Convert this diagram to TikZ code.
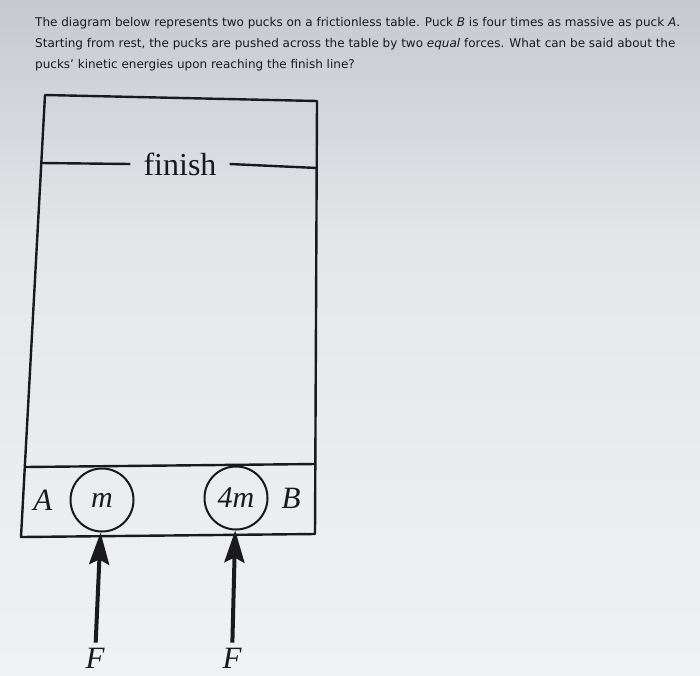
\documentclass[tikz,border=0pt]{standalone}
\usepackage{fontspec}
\newfontfamily\qfont{DejaVu Sans}
\newfontfamily\figfont{Liberation Serif}
\usetikzlibrary{arrows.meta, positioning}

\definecolor{screentop}{RGB}{198,202,208}
\definecolor{screenmid}{RGB}{228,232,234}
\definecolor{screenbot}{RGB}{238,242,242}
\definecolor{ink}{RGB}{25,25,30}

\tikzset{
  wall/.style={line width=2.4pt, line join=round, draw=ink},
  puck/.style={circle, draw=ink, line width=2pt, minimum size=63pt, inner sep=0pt,
    font=\figfont\itshape\fontsize{30}{30}\selectfont},
  lbl/.style={font=\figfont\itshape\fontsize{31}{31}\selectfont, inner sep=1pt},
  force/.style={line width=4pt, draw=ink, -{Stealth[length=32pt, width=20pt, inset=5pt]}},
}

\begin{document}
\begin{tikzpicture}[x=1pt, y=-1pt, text=ink]
  \useasboundingbox (0,0) rectangle (700,675);

  % screen background
  \shade[top color=screentop, bottom color=screenmid] (0,0) rectangle (700,250);
  \shade[top color=screenmid, bottom color=screenbot] (0,250) rectangle (700,675);

  % question text
  \node[anchor=north west, align=left, inner sep=0pt,
        font=\qfont\fontsize{12}{21}\selectfont] (question) at (35,17)
    {The diagram below represents two pucks on a frictionless table. Puck \textit{B} is four times as massive as puck \textit{A}.\\
     Starting from rest, the pucks are pushed across the table by two \textit{equal} forces. What can be said about the\\
     pucks’ kinetic energies upon reaching the finish line?};

  % table corners
  \coordinate (tl) at (45,95);
  \coordinate (tr) at (317,101);
  \coordinate (br) at (315,534);
  \coordinate (bl) at (21,537);
  \draw[wall] (tl) -- (tr) -- (br) -- (bl) -- cycle;

  % starting strip
  \coordinate (sl) at (25,467);
  \coordinate (sr) at (316,464);
  \draw[wall] (sl) -- (sr);

  % finish line
  \node[font=\figfont\fontsize{32}{32}\selectfont, inner xsep=13pt] (finish) at (180,164) {finish};
  \coordinate (fl) at (41,163);
  \coordinate (fr) at (317,168);
  \draw[wall] (fl) -- (finish.west);
  \draw[wall] (finish.east) -- (fr);

  % pucks
  \node[puck] (pA) at (102,500) {m};
  \node[puck] (pB) at (236,498) {4m};
  \node[lbl, left=16pt of pA] (lA) {A};
  \node[lbl, right=12pt of pB] (lB) {B};

  % pushing forces
  \node[lbl] (fA) at (95,658) {F};
  \node[lbl] (fB) at (232,658) {F};
  \draw[force, shorten <=4pt] (fA) -- (pA);
  \draw[force, shorten <=4pt] (fB) -- (pB);
\end{tikzpicture}
\end{document}
